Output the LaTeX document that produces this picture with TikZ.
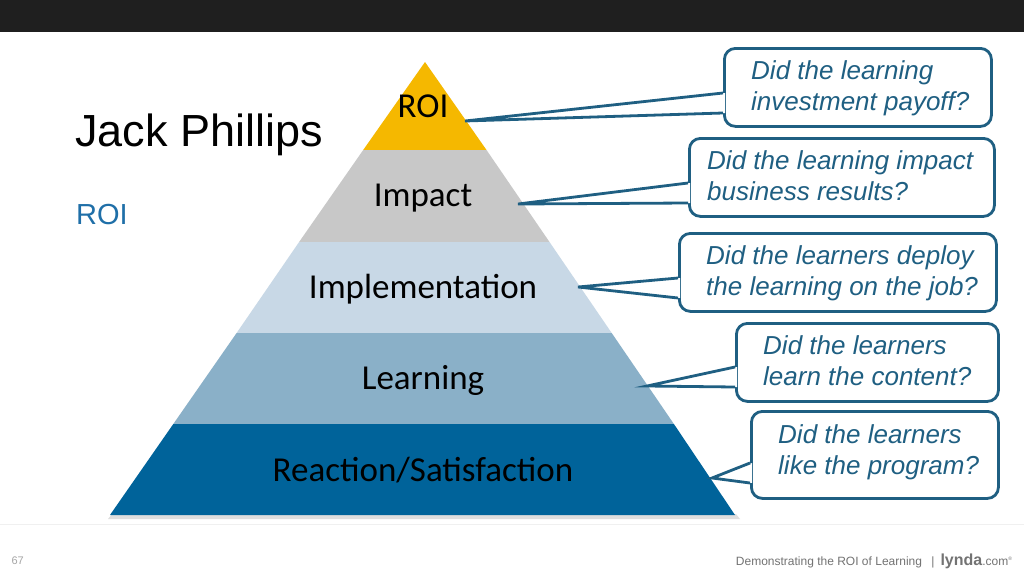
\documentclass[tikz,border=0pt]{standalone}
\usepackage{fontspec}
\setmainfont{Liberation Sans}
\newfontfamily\carl{Carlito}
\begin{document}
\begin{tikzpicture}[x=1pt,y=-1pt,
  lvl/.style={font=\carl\fontsize{35}{38}\selectfont,text=black},
  q/.style={font=\itshape\fontsize{26}{31}\selectfont,text=qblue,align=left,anchor=north west,inner sep=0pt},
  box/.style={draw=qblue,line width=2.8pt,rounded corners=11pt,fill=white},
  ptr/.style={draw=qblue,line width=2.8pt,line join=miter}]
\definecolor{qblue}{HTML}{1F5F82}
\definecolor{roi}{HTML}{F5B800}
\definecolor{imp}{HTML}{C8C8C8}
\definecolor{impl}{HTML}{C8D8E6}
\definecolor{lrn}{HTML}{8AB0C8}
\definecolor{rea}{HTML}{00639A}
\definecolor{tblue}{HTML}{1F6FA8}
\useasboundingbox (0,0) rectangle (1024,576);
\fill[white] (0,0) rectangle (1024,576);
\fill[black!88] (0,0) rectangle (1024,32);
% pyramid
\fill[black!25,opacity=0.5] (112,514) -- (736,514) -- (740,519) -- (108,519) -- cycle;
\fill[roi] (425,62) -- (486.5,150) -- (363.2,150) -- cycle;
\fill[imp] (363.2,150) -- (486.5,150) -- (549.5,242) -- (299.1,242) -- cycle;
\fill[impl] (299.1,242) -- (549.5,242) -- (611.7,333) -- (236.6,333) -- cycle;
\fill[lrn] (236.6,333) -- (611.7,333) -- (673.9,424) -- (173.3,424) -- cycle;
\fill[rea] (173.3,424) -- (673.9,424) -- (735,515) -- (110,515) -- cycle;
\node[lvl] (l1) at (423,106) {ROI};
\node[lvl] (l2) at (423,198) {Impact};
\node[lvl] (l3) at (423,289) {Implementation};
\node[lvl] (l4) at (423,380) {Learning};
\node[lvl] (l5) at (423,470) {Reaction/Satisfaction};
\node[font=\fontsize{45}{50}\selectfont,anchor=west,inner sep=0pt] (title) at (75,135) {Jack Phillips};
\node[font=\fontsize{29}{32}\selectfont,text=tblue,anchor=west,inner sep=0pt] (sub) at (76,215) {ROI};
% callouts
\newcommand{\callout}[8]{% x1 y1 x2 y2 off tipx tipy id
  \node[box,minimum width={#3-#1},minimum height={#4-#2},anchor=north west,inner sep=0pt] (b#8) at (#1,#2) {};
  \coordinate (t#8) at (#6,#7);
  \fill[white] (#1+2,#4-#5) -- (t#8) -- (#1+2,#4-#5+20) -- cycle;
  \draw[ptr] (#1,#4-#5) -- (t#8) -- (#1,#4-#5+20);
}
\callout{723}{47}{990}{125}{32}{465}{121}{1}
\callout{688}{137}{993}{215}{32}{518}{204}{2}
\callout{678}{232}{995}{310}{32}{578}{287}{3}
\callout{735}{322}{997}{400}{33}{647}{386}{4}
\callout{750}{410}{997}{497}{34}{712}{478}{5}
\node[q] (q1) at (751,60) {Did the learning\\investment payoff?};
\node[q] (q2) at (707,150) {Did the learning impact\\business results?};
\node[q] (q3) at (706,245) {Did the learners deploy\\the learning on the job?};
\node[q] (q4) at (763,335) {Did the learners\\learn the content?};
\node[q] (q5) at (778,424) {Did the learners\\like the program?};
% footer
\draw[black!6,line width=1pt] (0,524) -- (1024,524);
\node[font=\fontsize{11}{12}\selectfont,text=black!35,anchor=west] (pg) at (8,561) {67};
\node[font=\fontsize{12}{13}\selectfont,text=black!55,anchor=east] (ft) at (1016,561) {Demonstrating the ROI of Learning \enspace|\enspace {\bfseries\fontsize{16}{17}\selectfont lynda}.com\textsuperscript{\tiny\textregistered}};
\end{tikzpicture}
\end{document}
